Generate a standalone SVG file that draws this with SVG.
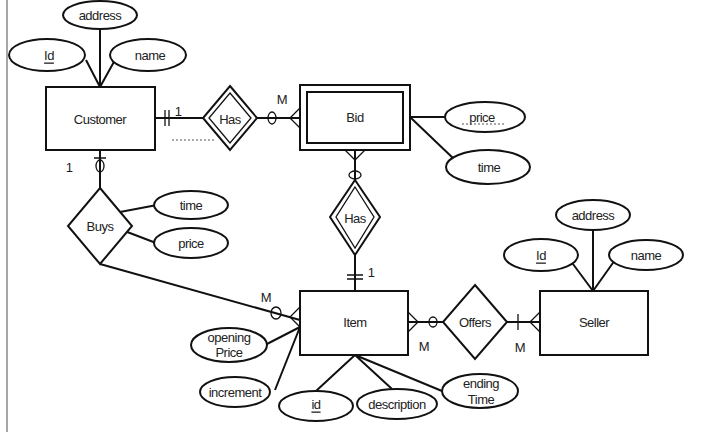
<svg xmlns="http://www.w3.org/2000/svg" width="705" height="432" viewBox="0 0 705 432">
<style>
text{font-family:"Liberation Sans",Arial,sans-serif;font-size:13px;fill:#222;text-anchor:middle;dominant-baseline:central;letter-spacing:-0.5px}
.s{fill:#fff;stroke:#111;stroke-width:2}
.l{fill:none;stroke:#111;stroke-width:2}
.t{fill:none;stroke:#111;stroke-width:1.3}
</style>
<rect width="705" height="432" fill="#fff"/>
<line x1="7" y1="0" x2="7" y2="432" stroke="#888" stroke-width="1.5"/>
<g id="connectors">
<path class="l" d="M100 87L100 29M100 87L86 60M100 87L115 60"/>
<path class="l" d="M155 118H203M257 118H300"/>
<path class="t" d="M165 110V126M169 110V126M290 118L300 108M290 118L300 128"/>
<ellipse class="t" cx="272" cy="118" rx="4" ry="6" fill="#fff"/>
<line x1="172" y1="140" x2="214" y2="140" stroke="#555" stroke-dasharray="2 2"/>
<path class="l" d="M410 117L445 117M410 117L455 160"/>
<path class="l" d="M355 150V180M355 255V291"/>
<path class="t" d="M355 160L345 150M355 160L365 150M347 275H363M347 279H363"/>
<ellipse class="t" cx="355" cy="175" rx="6" ry="4" fill="#fff"/>
<path class="l" d="M100 150V188M100 264L300 320"/>
<path class="t" d="M94 158H106M290 317L300 307M290 317L300 327"/>
<ellipse class="t" cx="100" cy="166" rx="4" ry="6" fill="#fff"/>
<ellipse class="t" cx="276" cy="313" rx="5" ry="6" fill="#fff"/>
<path class="l" d="M120 212L157 205M122 230L156 243"/>
<path class="l" d="M300 327L265 345M300 327L275 390"/>
<path class="l" d="M355 355L316 391M355 355L392 389M355 355L442 391"/>
<path class="l" d="M408 322H443M507 322H540M593 291L593 230M593 291L570 260M593 291L615 260"/>
<path class="t" d="M418 322L408 312M418 322L408 332M518 314V330M530 322L540 312M530 322L540 332"/>
<ellipse class="t" cx="433" cy="322" rx="4" ry="5" fill="#fff"/>
</g>
<g id="customer"><rect class="s" x="46" y="87" width="109" height="63"/><text x="100" y="119">Customer</text></g>
<g id="customer-id"><ellipse class="s" cx="47" cy="55" rx="38" ry="16"/><text x="49" y="55" text-decoration="underline">Id</text></g>
<g id="customer-name"><ellipse class="s" cx="148" cy="55" rx="38" ry="16"/><text x="150" y="55">name</text></g>
<g id="customer-address"><ellipse class="s" cx="100" cy="15" rx="37" ry="14"/><text x="100" y="15">address</text></g>
<g id="has1"><path class="s" d="M230 86L257 118L230 150L203 118Z"/><path class="t" d="M230 93L251 118L230 143L209 118Z"/><text x="230" y="119">Has</text></g>
<g id="bid"><rect class="s" x="300" y="85" width="110" height="65"/><rect class="s" x="307" y="92" width="96" height="51"/><text x="355" y="117">Bid</text></g>
<g id="bid-price"><ellipse class="s" cx="485" cy="117" rx="40" ry="15"/><text x="482" y="117">price</text><line x1="462" y1="124" x2="505" y2="124" stroke="#555" stroke-dasharray="2 2"/></g>
<g id="bid-time"><ellipse class="s" cx="488" cy="167" rx="42" ry="17"/><text x="489" y="167">time</text></g>
<g id="has2"><path class="s" d="M355 180L380 217L355 255L330 217Z"/><path class="t" d="M355 187L374 217L355 248L336 217Z"/><text x="355" y="218">Has</text></g>
<text x="178" y="111">1</text><text x="282" y="99">M</text><text x="371" y="272">1</text>
<text x="69" y="167">1</text><text x="266" y="297">M</text><text x="424" y="346">M</text><text x="520" y="347">M</text>
<g id="buys"><path class="s" d="M100 188L132 226L100 264L68 226Z"/><text x="100" y="226">Buys</text></g>
<g id="buys-time"><ellipse class="s" cx="191" cy="205" rx="37" ry="14"/><text x="191" y="205">time</text></g>
<g id="buys-price"><ellipse class="s" cx="191" cy="243" rx="37" ry="15"/><text x="191" y="243">price</text></g>
<g id="item"><rect class="s" x="300" y="291" width="108" height="64"/><text x="355" y="322">Item</text></g>
<g id="opening"><ellipse class="s" cx="229" cy="345" rx="38" ry="17"/><text x="229" y="337">opening</text><text x="229" y="352">Price</text></g>
<g id="increment"><ellipse class="s" cx="235" cy="392" rx="35" ry="15"/><text x="235" y="392">increment</text></g>
<g id="item-id"><ellipse class="s" cx="316" cy="406" rx="37" ry="15"/><text x="316" y="404" text-decoration="underline">id</text></g>
<g id="description"><ellipse class="s" cx="397" cy="404" rx="40" ry="15"/><text x="397" y="404">description</text></g>
<g id="ending"><ellipse class="s" cx="480" cy="391" rx="38" ry="17"/><text x="481" y="383">ending</text><text x="481" y="399">Time</text></g>
<g id="offers"><path class="s" d="M475 285L507 322L475 359L443 322Z"/><text x="475" y="322">Offers</text></g>
<g id="seller"><rect class="s" x="540" y="291" width="108" height="64"/><text x="594" y="322">Seller</text></g>
<g id="seller-address"><ellipse class="s" cx="593" cy="215" rx="37" ry="15"/><text x="593" y="215">address</text></g>
<g id="seller-id"><ellipse class="s" cx="541" cy="255" rx="37" ry="16"/><text x="541" y="255" text-decoration="underline">Id</text></g>
<g id="seller-name"><ellipse class="s" cx="646" cy="255" rx="37" ry="15"/><text x="646" y="255">name</text></g>
</svg>
